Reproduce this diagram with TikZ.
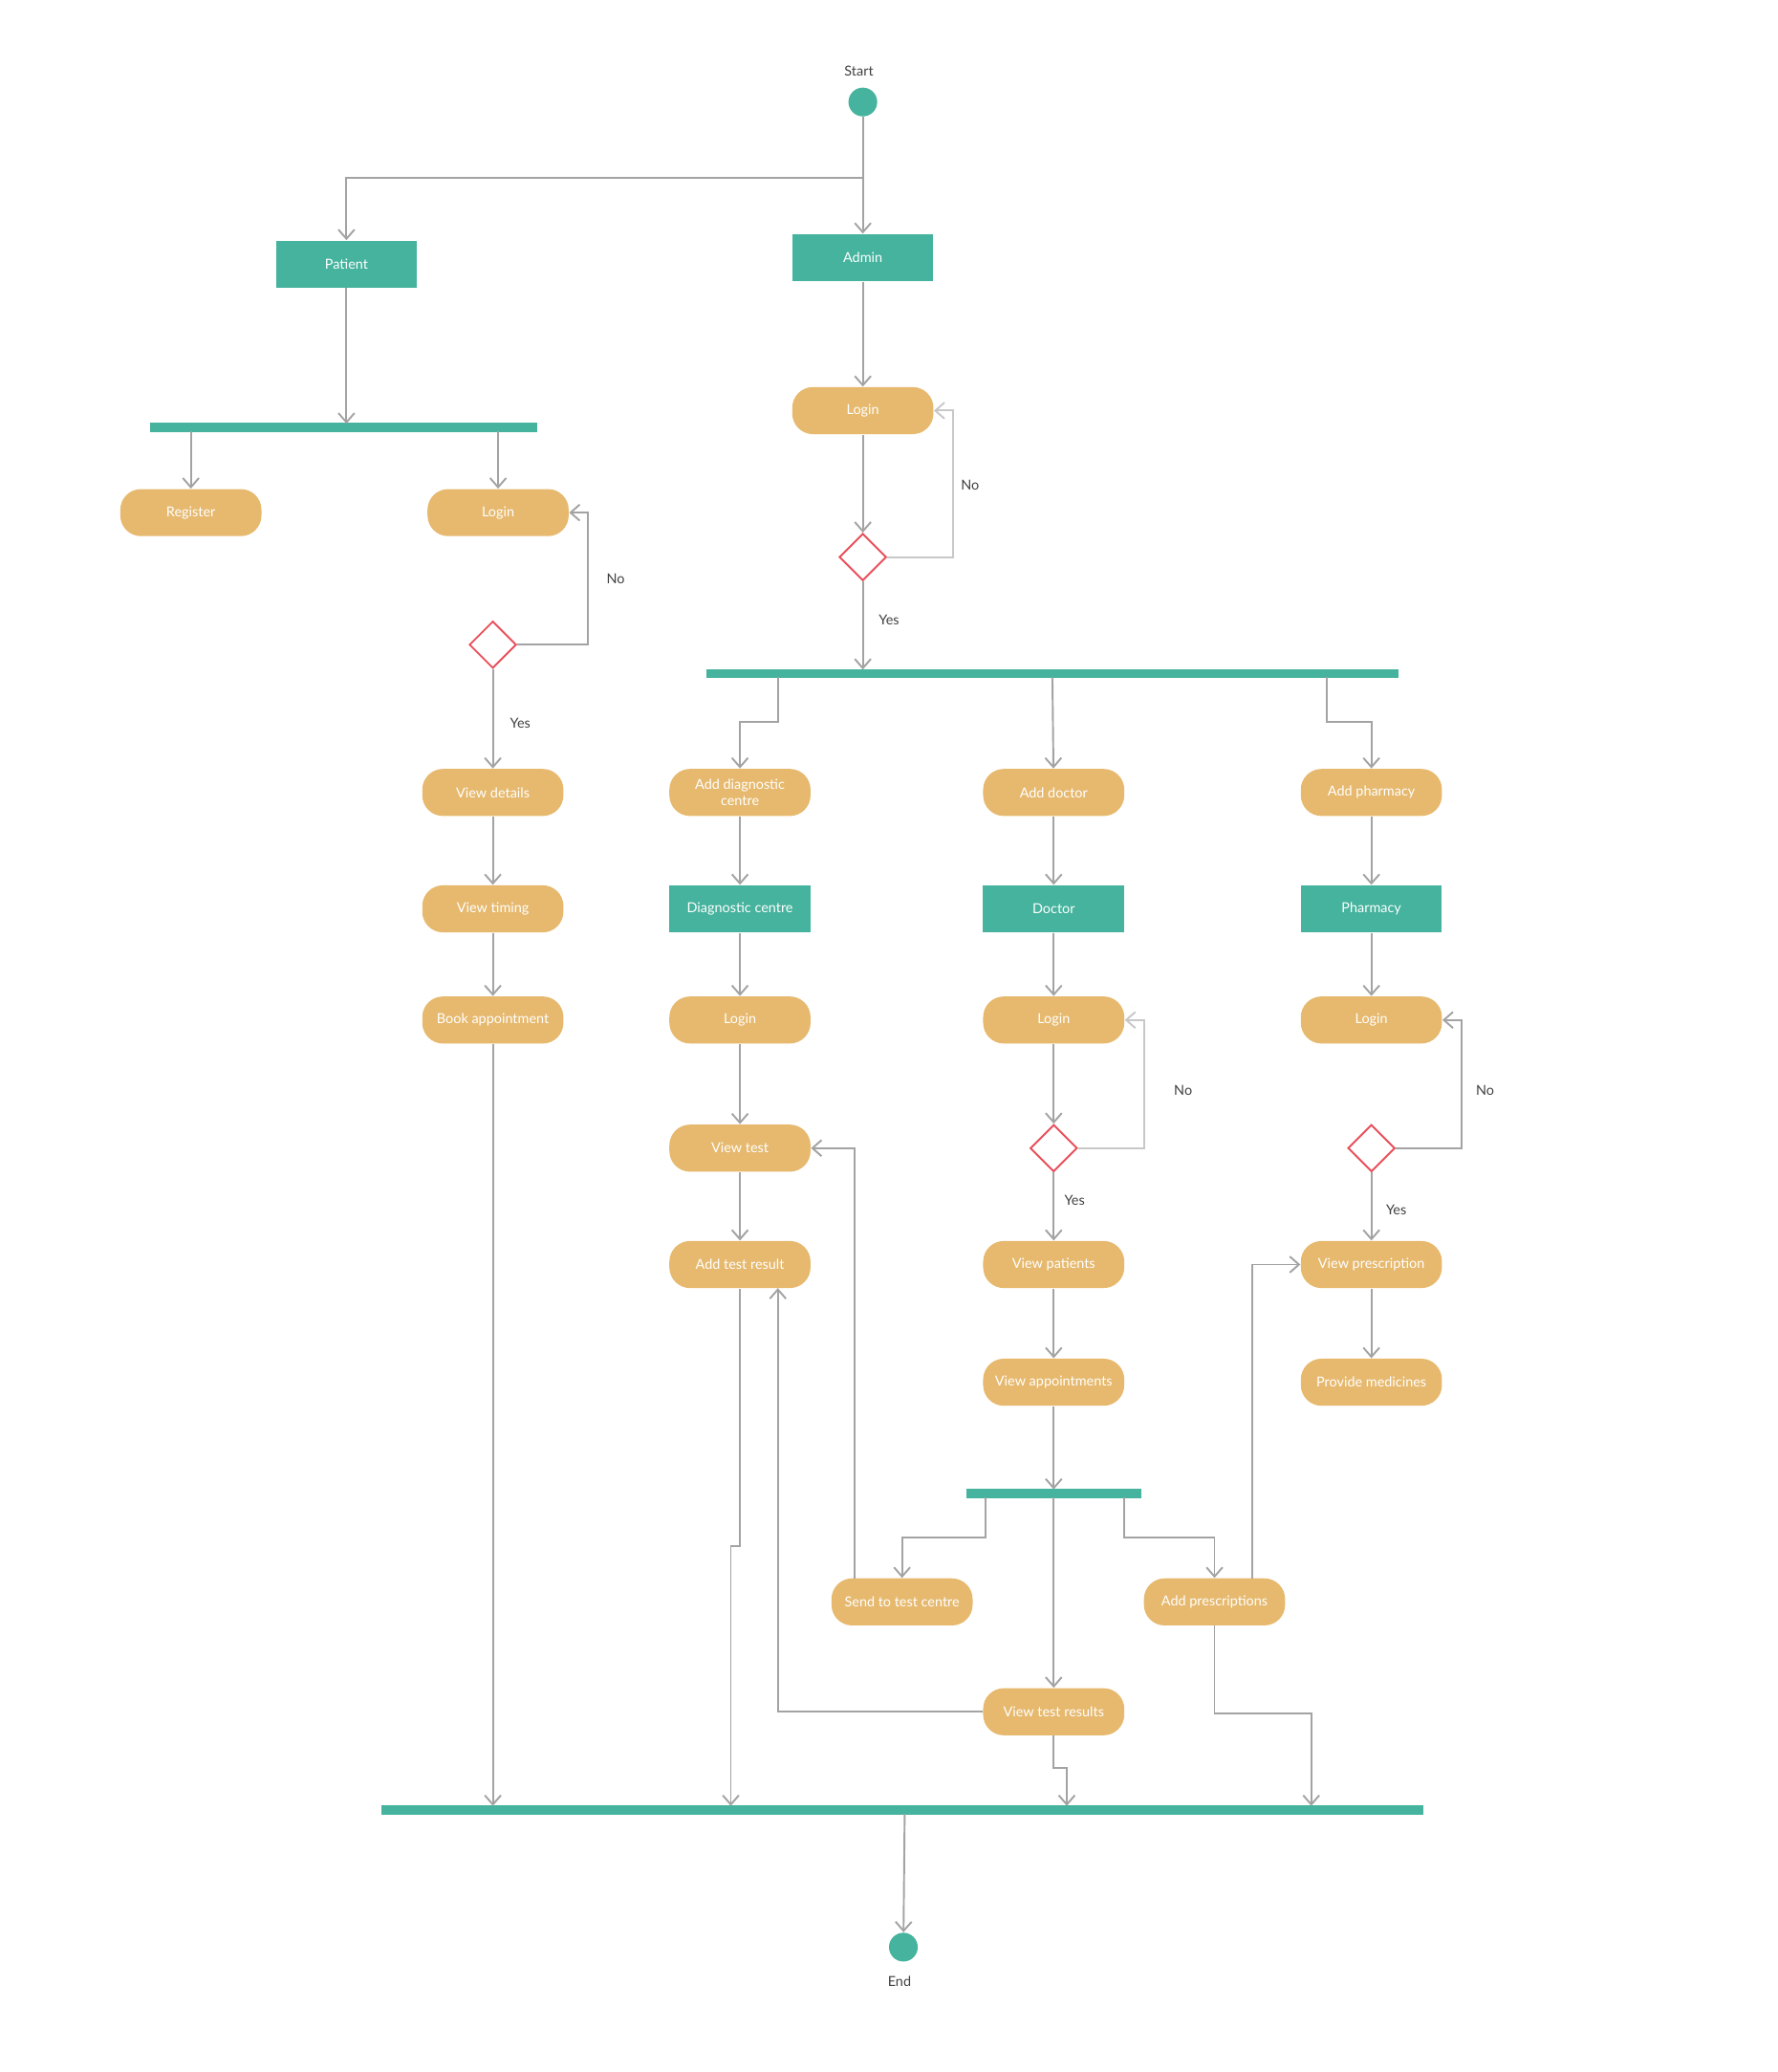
\documentclass[tikz,border=0pt]{standalone}
\usepackage{fontspec}
\setmainfont{Lato}
\usetikzlibrary{arrows.meta,shapes.geometric}
\definecolor{teal}{HTML}{45B39D}
\definecolor{sand}{HTML}{E6B96E}
\definecolor{diared}{HTML}{E8505B}
\definecolor{wire}{HTML}{A3A3A3}
\tikzset{
  act/.style={draw=none, fill=sand, rounded corners=9pt, minimum width=2.16cm, minimum height=0.72cm, text=white, font=\fontsize{6}{7}\selectfont, align=center},
  actor/.style={fill=teal, minimum width=2.16cm, minimum height=0.72cm, text=white, font=\fontsize{6}{7}\selectfont},
  bar/.style={fill=teal, inner sep=0pt, minimum height=0.14cm},
  dec/.style={diamond, draw=diared, thick, fill=white, minimum width=0.72cm, minimum height=0.72cm, inner sep=0pt},
  dot/.style={circle, fill=teal, minimum size=0.44cm, inner sep=0pt},
  lbl/.style={font=\fontsize{6}{7}\selectfont, text=black!75},
  flow/.style={draw=wire, thick, -{Straight Barb[length=4pt,width=7pt]}}
}
\begin{document}
\begin{tikzpicture}[x=0.02cm, y=-0.02cm]
\useasboundingbox (0,0) rectangle (1360,1584.5);

% start / end
\node[dot] (start) at (660,78) {};
\node[lbl] at (657,54) {Start};
\node[dot] (end) at (691,1489) {};
\node[lbl] at (688,1515) {End};

% actors
\node[actor] (patient) at (265,202) {Patient};
\node[actor] (admin) at (660,197) {Admin};
\node[actor] (diag) at (566,695) {Diagnostic centre};
\node[actor] (doctor) at (806,695) {Doctor};
\node[actor] (pharm) at (1049,695) {Pharmacy};

% bars
\node[bar, minimum width=5.92cm] (barP) at (263,327) {};
\node[bar, minimum width=10.6cm] (barA) at (805,515) {};
\node[bar, minimum width=2.68cm] (barD) at (806,1142) {};
\node[bar, minimum width=15.94cm] (barE) at (690,1384) {};

% patient side
\node[act] (register) at (146,392) {Register};
\node[act] (loginP) at (381,392) {Login};
\node[dec] (decP) at (377,493) {};
\node[act] (details) at (377,606) {View details};
\node[act] (timing) at (377,695) {View timing};
\node[act] (book) at (377,780) {Book appointment};

% admin side
\node[act] (loginA) at (660,314) {Login};
\node[dec] (decA) at (660,426) {};
\node[act] (adddiag) at (566,606) {Add diagnostic\\centre};
\node[act] (adddoc) at (806,606) {Add doctor};
\node[act] (addpharm) at (1049,606) {Add pharmacy};

% diagnostic centre
\node[act] (loginG) at (566,780) {Login};
\node[act] (viewtest) at (566,878) {View test};
\node[act] (addres) at (566,967) {Add test result};

% doctor
\node[act] (loginD) at (806,780) {Login};
\node[dec] (decD) at (806,878) {};
\node[act] (patients) at (806,967) {View patients};
\node[act] (appts) at (806,1057) {View appointments};
\node[act] (send) at (690,1225) {Send to test centre};
\node[act] (presc) at (929,1225) {Add prescriptions};
\node[act] (results) at (806,1309) {View test results};

% pharmacy
\node[act] (loginR) at (1049,780) {Login};
\node[dec] (decR) at (1049,878) {};
\node[act] (viewpresc) at (1049,967) {View prescription};
\node[act] (medic) at (1049,1057) {Provide medicines};

% labels
\node[lbl] at (471,443) {No};
\node[lbl] at (398,553) {Yes};
\node[lbl] at (742,371) {No};
\node[lbl] at (680,474) {Yes};
\node[lbl] at (905,834) {No};
\node[lbl] at (822,918) {Yes};
\node[lbl] at (1136,834) {No};
\node[lbl] at (1068,925) {Yes};

% connectors
\draw[flow] (start) -- (660,136) -| (patient);
\draw[flow] (start) -- (admin);
\draw[flow] (patient) -- (265,324);
\draw[flow] (146,330) -- (register);
\draw[flow] (381,330) -- (loginP);
\draw[flow] (decP.east) -- (450,493) |- (loginP.east);
\draw[flow] (decP) -- (details);
\draw[flow] (details) -- (timing);
\draw[flow] (timing) -- (book);
\draw[flow] (book) -- (377,1381);

\draw[flow] (admin) -- (loginA);
\draw[flow] (loginA) -- (decA);
\draw[flow, draw=wire!60] (decA.east) -- (729,426) |- (loginA.east);
\draw[flow] (decA) -- (660,512);
\draw[flow] (595,518) -- (595,552) -| (adddiag);
\draw[flow] (805,518) -- (adddoc);
\draw[flow] (1015,518) -- (1015,552) -| (addpharm);

\draw[flow] (adddiag) -- (diag);
\draw[flow] (diag) -- (loginG);
\draw[flow] (loginG) -- (viewtest);
\draw[flow] (viewtest) -- (addres);
\draw[flow] (addres) -- (566,1182) -- (559,1182) -- (559,1381);

\draw[flow] (adddoc) -- (doctor);
\draw[flow] (doctor) -- (loginD);
\draw[flow] (loginD) -- (decD);
\draw[flow, draw=wire!60] (decD.east) -- (875,878) |- (loginD.east);
\draw[flow] (decD) -- (patients);
\draw[flow] (patients) -- (appts);
\draw[flow] (appts) -- (806,1139);
\draw[flow] (754,1145) -- (754,1176) -| (send);
\draw[flow] (806,1145) -- (results);
\draw[flow] (860,1145) -- (860,1176) -| (presc);
\draw[flow] (send.north -| 654,0) ++(0,0) coordinate (s) (654,1207) |- (viewtest.east);
\draw[flow] (results.west) -| (595,985);
\draw[flow] (958,1207) |- (viewpresc.west);
\draw[flow] (results) -- (806,1352) -- (816,1352) -- (816,1381);
\draw[flow] (presc) -- (929,1310) -- (1003,1310) -- (1003,1381);

\draw[flow] (addpharm) -- (pharm);
\draw[flow] (pharm) -- (loginR);
\draw[flow] (decR.east) -- (1118,878) |- (loginR.east);
\draw[flow] (decR) -- (viewpresc);
\draw[flow] (viewpresc) -- (medic);

\draw[flow] (692,1387) -- (end);
\end{tikzpicture}
\end{document}
